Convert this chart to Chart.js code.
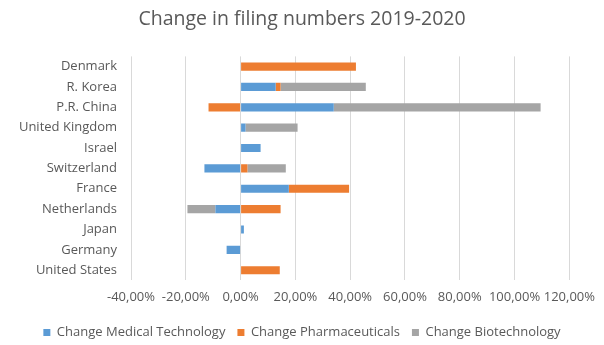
<!DOCTYPE html>
<html>
<head>
<meta charset="utf-8">
<script src="https://cdn.jsdelivr.net/npm/chart.js@4/dist/chart.umd.min.js"></script>
<style>
  html, body { margin: 0; padding: 0; background: #fff; }
  #wrap { width: 604px; height: 345px; }
</style>
</head>
<body>
<div id="wrap"><canvas id="filingChart"></canvas></div>
<script>
// categories (top to bottom)
const countries = [
    "Denmark", "R. Korea", "P.R. China", "United Kingdom", "Israel",
    "Switzerland", "France", "Netherlands", "Japan", "Germany", "United States"
];

// change in %
const medTech = [0, 12.8, 34, 1.8, 7.3, -13.2, 17.6, -9.2, 1.2, -5.1, 0];
const pharma  = [42.1, 1.8, -11.7, 0, 0, 2.5, 22, 14.6, 0, 0, 14.3];
const biotech = [0, 31.1, 75.5, 19, 0, 14, 0, -10.2, 0, 0, 0];

const seriesNames = ["Change Medical Technology", "Change Pharmaceuticals", "Change Biotechnology"];
const seriesColors = ["#5B9BD5", "#ED7D31", "#A5A5A5"];

const xMin = -40, xMax = 120, xStep = 20;

const textColor = "#595959";
const fontFamily = "'Open Sans', sans-serif";

function pct(v) {
    return v.toFixed(2).replace(".", ",") + "%";
}

const datasets = [medTech, pharma, biotech].map((vals, i) => ({
    label: seriesNames[i],
    data: vals,
    backgroundColor: seriesColors[i],
    borderWidth: 0,
    categoryPercentage: 0.4,
    barPercentage: 1
}));

new Chart(document.getElementById("filingChart"), {
    type: "bar",
    data: { labels: countries, datasets: datasets },
    options: {
        indexAxis: "y",
        responsive: true,
        maintainAspectRatio: false,
        animation: false,
        layout: { padding: { left: 9, right: 9, top: 8, bottom: -4 } },
        scales: {
            x: {
                stacked: true,
                min: xMin,
                max: xMax,
                ticks: {
                    stepSize: xStep,
                    color: textColor,
                    font: { family: fontFamily, size: 13 },
                    callback: v => pct(v),
                    maxRotation: 0,
                    padding: 9
                },
                grid: { color: "#d9d9d9", drawTicks: false },
                border: { display: false }
            },
            y: {
                stacked: true,
                afterFit: s => { s.width = 122; },
                ticks: {
                    color: textColor,
                    font: { family: fontFamily, size: 13 },
                    padding: 14
                },
                grid: { display: false, drawTicks: false },
                border: { display: false }
            }
        },
        plugins: {
            title: {
                display: true,
                text: "Change in filing numbers 2019-2020",
                color: textColor,
                font: { family: fontFamily, size: 19.5, weight: "normal" },
                padding: { top: 0, bottom: 25 }
            },
            legend: {
                position: "bottom",
                labels: {
                    color: textColor,
                    font: { family: fontFamily, size: 13 },
                    boxWidth: 7,
                    boxHeight: 7,
                    padding: 12
                }
            },
            tooltip: { enabled: false }
        }
    }
});
</script>
</body>
</html>
